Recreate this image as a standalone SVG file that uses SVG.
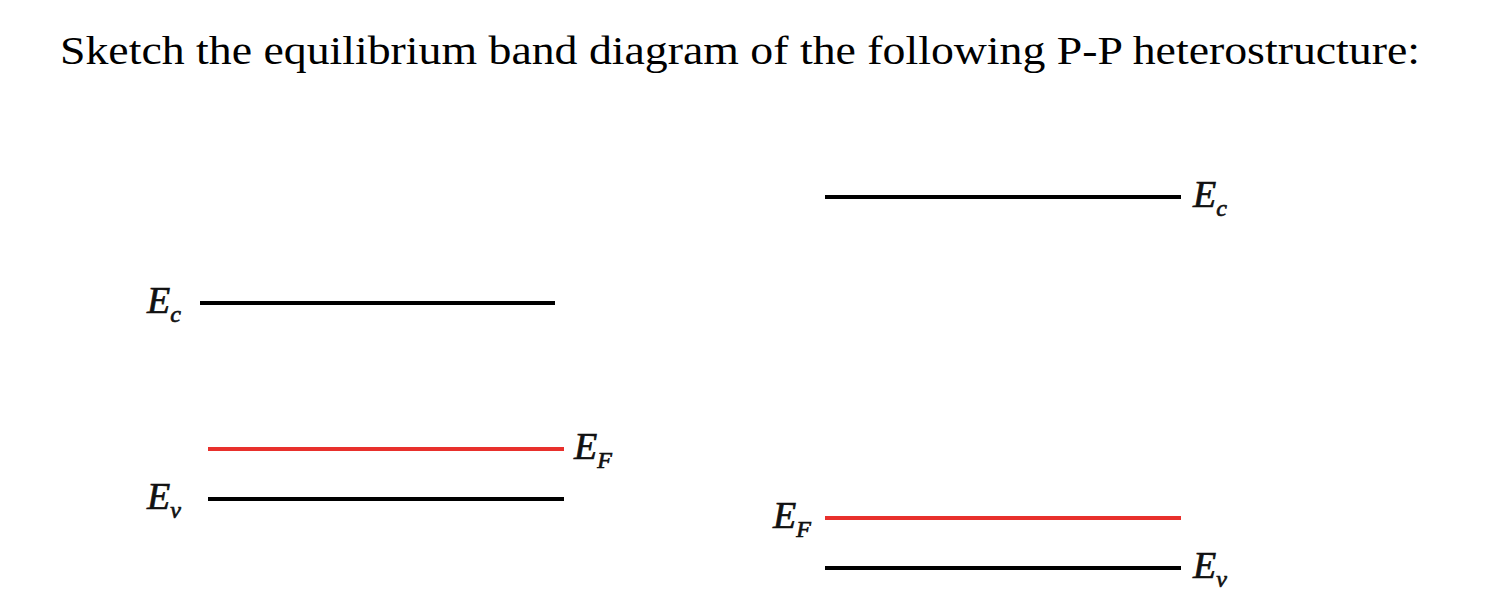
<svg xmlns="http://www.w3.org/2000/svg" width="1494" height="608" viewBox="0 0 1494 608">
<style>
.title{font-family:"Liberation Serif","Times New Roman",serif;font-size:40px;fill:#000}
.lbl{font-family:"Liberation Serif","Times New Roman",serif;font-style:italic;font-size:38px;fill:#111;stroke:#111;stroke-width:0.7}
.sub{font-size:24px}
.band{stroke:#000;stroke-width:4;fill:none}
.fermi{stroke:#e8302c;stroke-width:4;fill:none}
</style>
<rect width="1494" height="608" fill="#fff"/>
<text class="title" x="60" y="64" textLength="1360" lengthAdjust="spacingAndGlyphs">Sketch the equilibrium band diagram of the following P-P heterostructure:</text>
<g id="left">
  <g id="left-Ec">
    <line class="band" x1="200" y1="303" x2="555" y2="303"/>
    <text class="lbl" x="147" y="313">E<tspan class="sub" dy="9">c</tspan></text>
  </g>
  <g id="left-EF">
    <line class="fermi" x1="208" y1="449" x2="564" y2="449"/>
    <text class="lbl" x="574" y="459">E<tspan class="sub" dy="9">F</tspan></text>
  </g>
  <g id="left-Ev">
    <line class="band" x1="208" y1="499" x2="564" y2="499"/>
    <text class="lbl" x="147" y="509">E<tspan class="sub" dy="9">v</tspan></text>
  </g>
</g>
<g id="right">
  <g id="right-Ec">
    <line class="band" x1="825" y1="197" x2="1181" y2="197"/>
    <text class="lbl" x="1193" y="207">E<tspan class="sub" dy="9">c</tspan></text>
  </g>
  <g id="right-EF">
    <line class="fermi" x1="825" y1="518" x2="1181" y2="518"/>
    <text class="lbl" x="773" y="528">E<tspan class="sub" dy="9">F</tspan></text>
  </g>
  <g id="right-Ev">
    <line class="band" x1="825" y1="568" x2="1181" y2="568"/>
    <text class="lbl" x="1193" y="578">E<tspan class="sub" dy="9">v</tspan></text>
  </g>
</g>
<g id="connectors"></g>
</svg>
